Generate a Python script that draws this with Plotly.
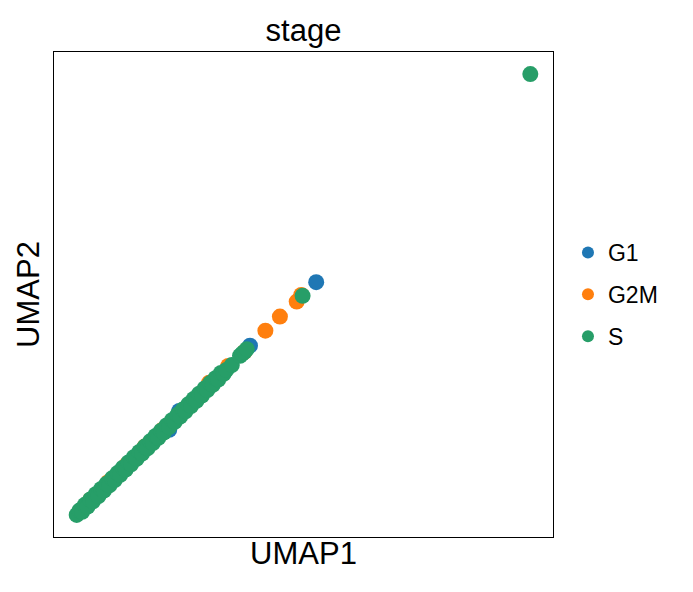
import plotly.graph_objects as go

# UMAP coordinates per cell-cycle stage
g1_x = [0.40, 1.00, 1.55, 2.04, 2.26, 2.60, 3.10, 3.82, 5.28]
g1_y = [0.40, 1.00, 1.55, 1.93, 2.36, 2.60, 3.10, 3.84, 5.28]

g2m_x = [0.10, 0.30, 0.50, 0.70, 0.90, 1.10, 1.30, 1.50, 1.70, 1.90, 2.10,
         2.30, 2.50, 2.70, 2.92, 3.10, 3.34, 3.70, 4.16, 4.48, 4.85, 4.95]
g2m_y = [0.10, 0.34, 0.50, 0.75, 0.90, 1.14, 1.30, 1.55, 1.70, 1.94, 2.10,
         2.30, 2.50, 2.70, 3.00, 3.10, 3.38, 3.70, 4.18, 4.50, 4.84, 4.99]

s_x = [0.00, 0.06, 0.12, 0.18, 0.24, 0.30, 0.36, 0.42, 0.48, 0.54, 0.60,
       0.66, 0.72, 0.78, 0.84, 0.90, 0.96, 1.02, 1.08, 1.14, 1.20, 1.26,
       1.32, 1.38, 1.44, 1.50, 1.56, 1.62, 1.68, 1.74, 1.80, 1.86, 1.92,
       1.98, 2.04, 2.10, 2.16, 2.22, 2.28, 2.34, 2.40, 2.46, 2.52, 2.58,
       2.64, 2.70, 2.76, 2.82, 2.88, 2.94, 3.00, 3.06, 3.12, 3.18, 3.24,
       3.30, 3.42, 3.60, 3.65, 3.70, 3.75, 4.98, 10.0]
s_y = [0.00, 0.10, 0.07, 0.23, 0.19, 0.35, 0.31, 0.47, 0.43, 0.59, 0.55,
       0.71, 0.67, 0.83, 0.79, 0.95, 0.91, 1.07, 1.03, 1.19, 1.15, 1.31,
       1.27, 1.43, 1.39, 1.55, 1.51, 1.67, 1.63, 1.79, 1.75, 1.91, 1.87,
       2.03, 1.99, 2.15, 2.11, 2.27, 2.23, 2.39, 2.35, 2.51, 2.47, 2.63,
       2.59, 2.75, 2.71, 2.87, 2.83, 2.99, 2.95, 3.10, 3.07, 3.22, 3.20,
       3.29, 3.40, 3.61, 3.66, 3.70, 3.76, 4.97, 10.0]

stages = ["G1", "G2M", "S"]
colors = ["#1f77b4", "#ff7f0e", "#279e68"]
xs = [g1_x, g2m_x, s_x]
ys = [g1_y, g2m_y, s_y]

fig = go.Figure()
for name, c, x, y in zip(stages, colors, xs, ys):
    fig.add_trace(go.Scatter(
        x=x, y=y, mode="markers", name=name, legendgroup=name,
        marker=dict(color=c, size=16, line=dict(width=0)),
    ))

fig.update_layout(
    width=685, height=584,
    margin=dict(l=46, r=140, t=44, b=55),
    paper_bgcolor="white", plot_bgcolor="white",
    font=dict(family="Arial, Liberation Sans, sans-serif", color="black", size=23),
    title=dict(text="stage", x=0.5, xref="paper", xanchor="center",
               y=1 - 22 / 584, yanchor="middle", font=dict(size=31)),
    legend=dict(x=1.03, y=0.5, yanchor="middle", xanchor="left",
                font=dict(size=23), tracegroupgap=9, itemsizing="constant"),
    showlegend=True,
)
axis_style = dict(showline=True, mirror=True, linecolor="black", linewidth=1.3,
                  showgrid=False, zeroline=False, showticklabels=False, ticks="")
fig.update_xaxes(range=[-0.5, 10.5], title=dict(text="UMAP1", font=dict(size=31), standoff=5),
                 **axis_style)
fig.update_yaxes(range=[-0.5, 10.5], title=dict(text="UMAP2", font=dict(size=31), standoff=4),
                 **axis_style)

fig.write_html("out.html")
